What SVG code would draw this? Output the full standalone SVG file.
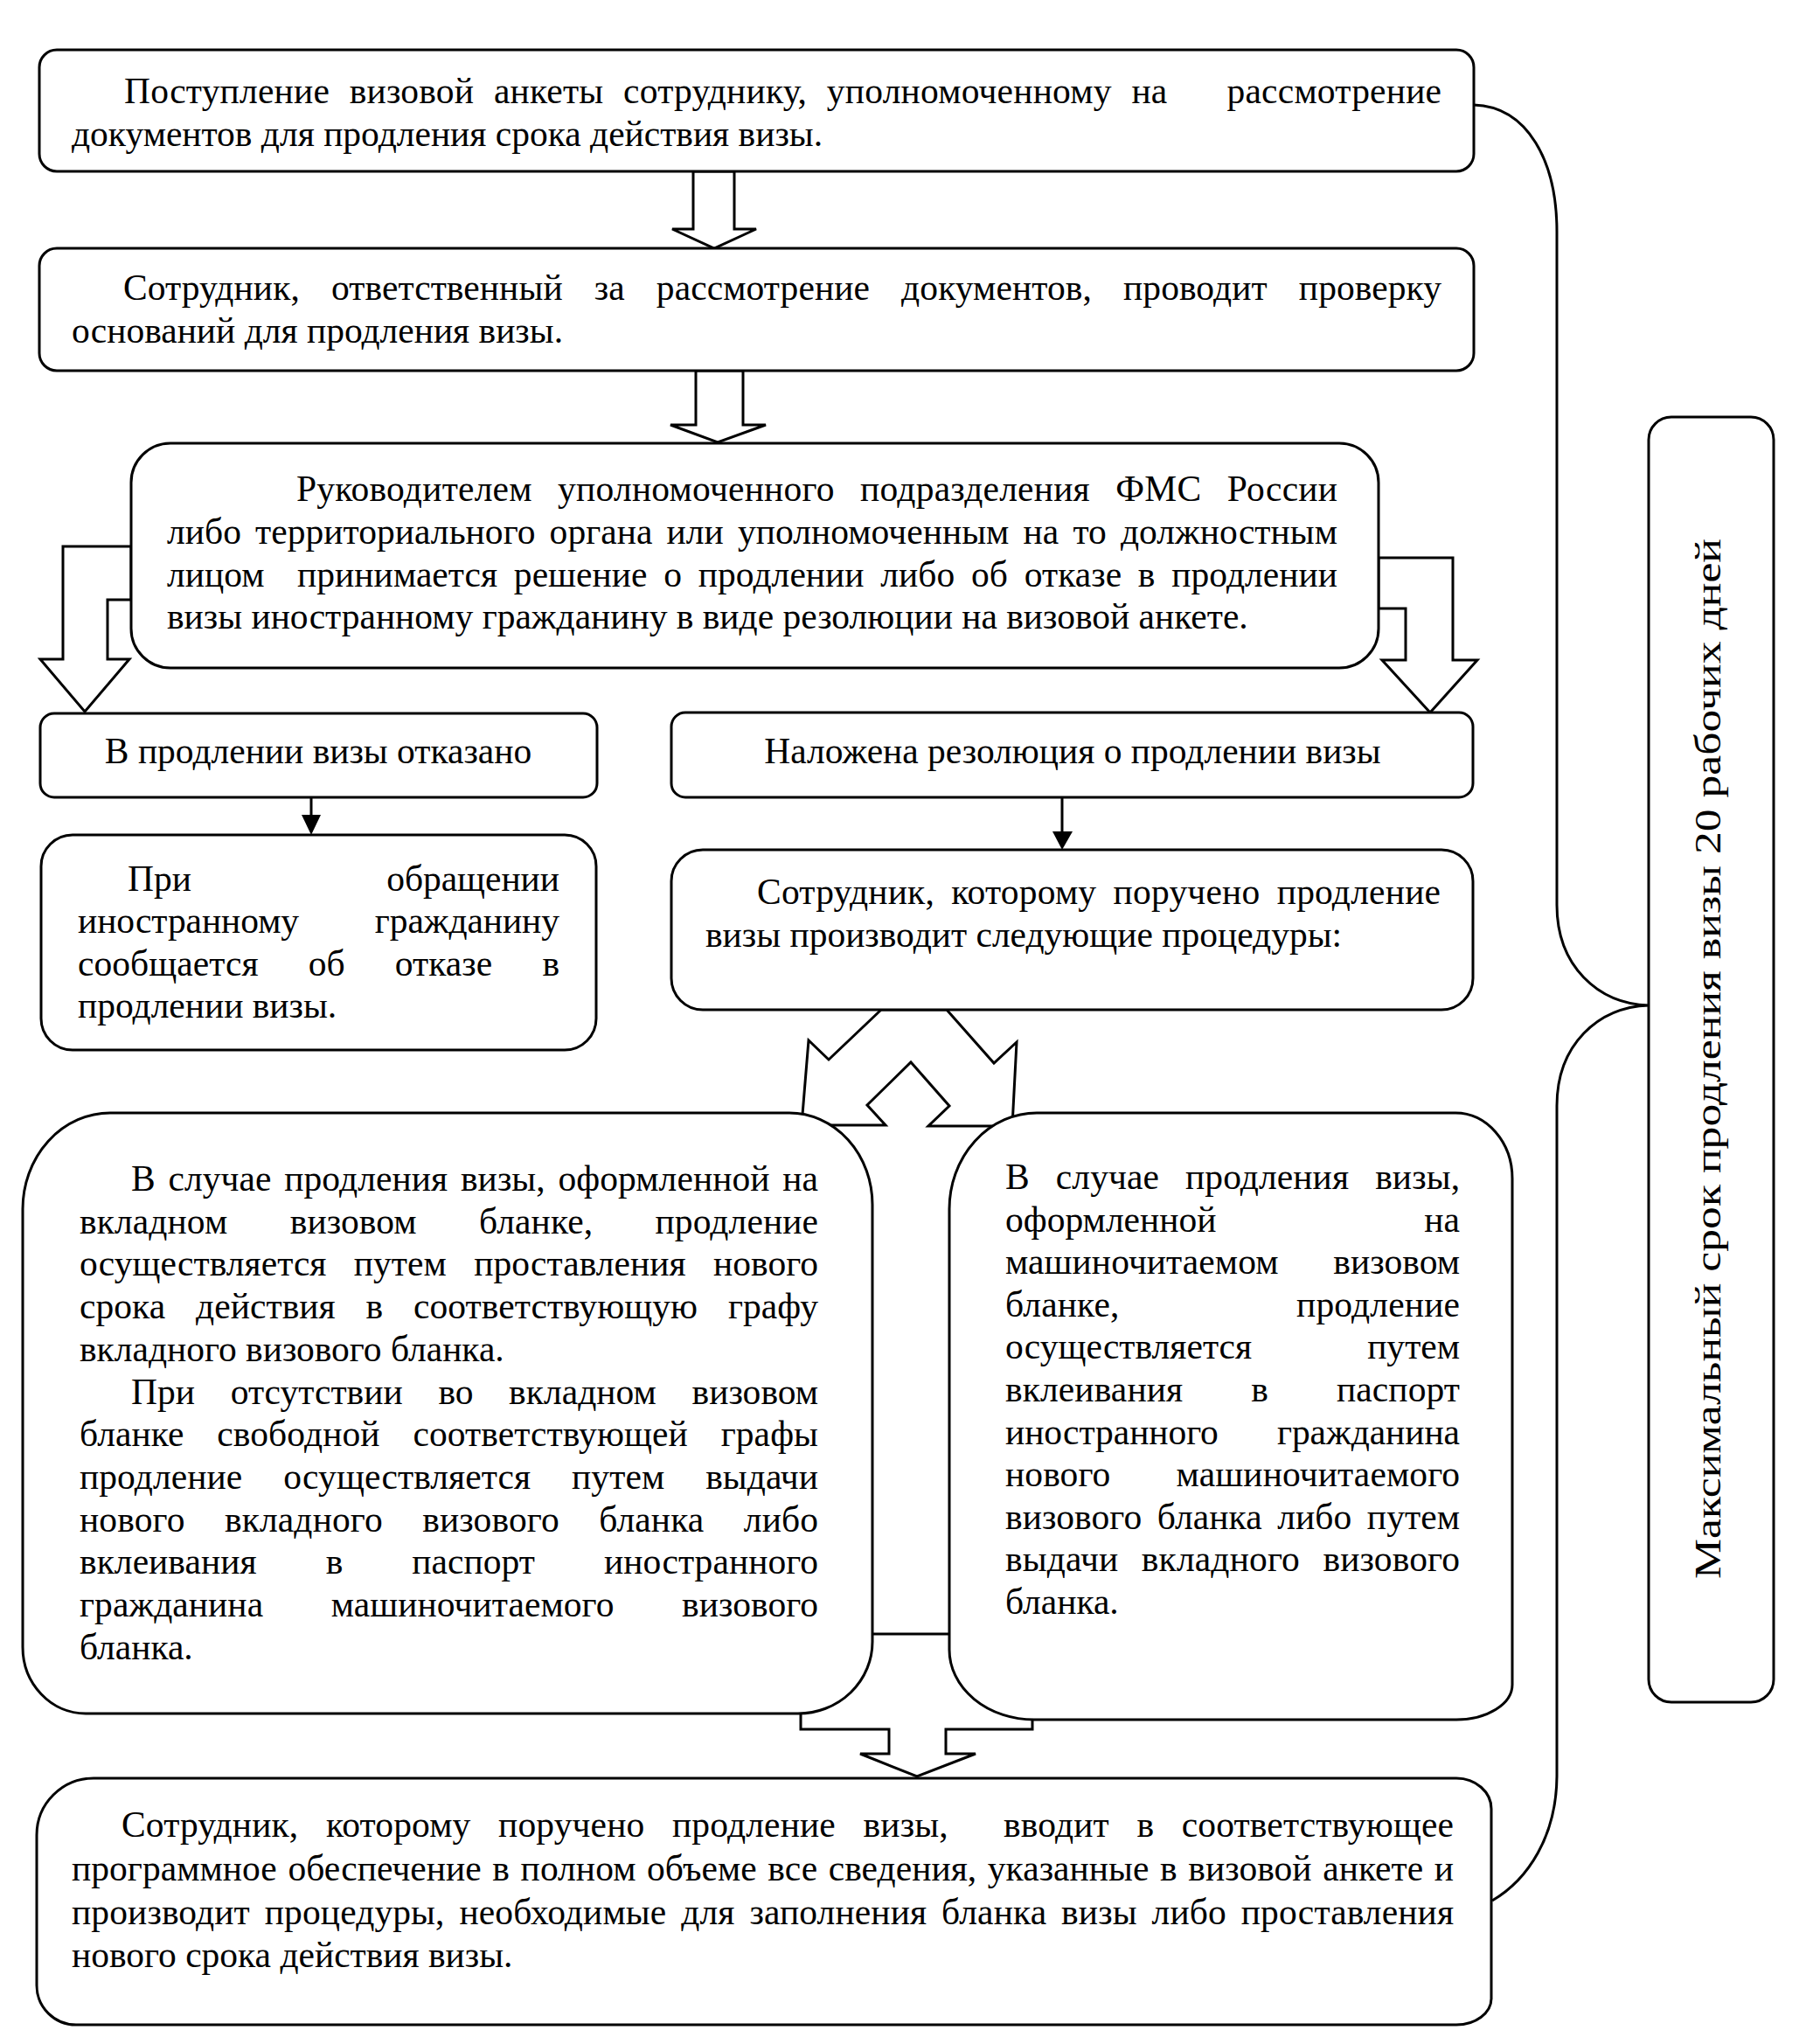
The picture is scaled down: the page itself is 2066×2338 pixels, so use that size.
<svg xmlns="http://www.w3.org/2000/svg" width="2066" height="2338" viewBox="0 0 2066 2338">
<style>
.b{fill:#fff;stroke:#000;stroke-width:3}
.a{fill:#fff;stroke:#000;stroke-width:3;stroke-linejoin:miter}
.l{fill:none;stroke:#000;stroke-width:3}
.h{fill:#000;stroke:none}
text{font-family:"Liberation Serif","Times New Roman",serif;font-size:41.5px;fill:#000}
</style>
<rect width="2066" height="2338" fill="#fff"/>
<g id="connectors">
<path class="l" d="M1686,120 C1748,122 1781,185 1781,265 V1035 C1781,1105 1828,1148 1886,1150 C1828,1152 1781,1195 1781,1265 V2030 C1781,2100 1748,2150 1707,2174"/>
<polygon class="a" points="793,196 840,196 840,262 865,262 817,284 769,262 793,262"/>
<polygon class="a" points="796,424 850,424 850,486 876,486 821,506 767,486 796,486"/>
<polygon class="a" points="150,625 72,625 72,754 46,754 97,814 148,754 123,754 123,686 150,686"/>
<polygon class="a" points="1577,638 1662,638 1662,755 1690,755 1636,815 1581,755 1608,755 1608,696 1577,696"/>
<line class="l" x1="356" y1="912" x2="356" y2="934"/>
<polygon class="h" points="345,932 367,932 356,955"/>
<line class="l" x1="1215" y1="912" x2="1215" y2="953"/>
<polygon class="h" points="1204,951 1227,951 1215,972"/>
<polygon class="a" points="1008,1155 948,1212 925,1190 917,1287 1013,1287 992,1264 1042,1215 1086,1265 1062,1288 1158,1288 1163,1192 1137,1216 1083,1155"/>
<polygon class="a" points="916,1869 1181,1869 1181,1978 1082,1978 1082,2006 1116,2006 1049,2032 984,2006 1017,2006 1017,1978 916,1978"/>
</g>
<g id="n1">
<rect class="b" x="45" y="57" width="1641" height="139" rx="20"/>
<text x="142" y="118" textLength="1507" word-spacing="12.1">Поступление визовой анкеты сотруднику, уполномоченному на&#160;&#160; рассмотрение</text>
<text x="82" y="167">документов для продления срока действия визы.</text>
</g>
<g id="n2">
<rect class="b" x="45" y="284" width="1641" height="140" rx="20"/>
<text x="141" y="343" textLength="1508" word-spacing="25.6">Сотрудник, ответственный за рассмотрение документов, проводит проверку</text>
<text x="82" y="392">оснований для продления визы.</text>
</g>
<g id="n3">
<rect class="b" x="150" y="507" width="1427" height="257" rx="45"/>
<text x="339" y="573" textLength="1191" word-spacing="18.8">Руководителем уполномоченного подразделения ФМС России</text>
<text x="191" y="622" textLength="1339" word-spacing="5.7">либо территориального органа или уполномоченным на то должностным</text>
<text x="191" y="671" textLength="1339" word-spacing="8.3">лицом&#160; принимается решение о продлении либо об отказе в продлении</text>
<text x="191" y="719">визы иностранному гражданину в виде резолюции на визовой анкете.</text>
</g>
<g id="n4">
<rect class="b" x="46" y="816" width="637" height="96" rx="16"/>
<text x="364" y="873" text-anchor="middle">В продлении визы отказано</text>
</g>
<g id="n5">
<rect class="b" x="768" y="815" width="917" height="97" rx="16"/>
<text x="1227" y="873" text-anchor="middle">Наложена резолюция о продлении визы</text>
</g>
<g id="n6">
<rect class="b" x="47" y="955" width="635" height="246" rx="36"/>
<text x="146" y="1019" textLength="494" word-spacing="213">При обращении</text>
<text x="89" y="1067" textLength="551" word-spacing="76.5">иностранному гражданину</text>
<text x="89" y="1116" textLength="551" word-spacing="46.7">сообщается об отказе в</text>
<text x="89" y="1164">продлении визы.</text>
</g>
<g id="n7">
<rect class="b" x="768" y="972" width="917" height="183" rx="36"/>
<text x="866" y="1034" textLength="782" word-spacing="8.7">Сотрудник, которому поручено продление</text>
<text x="807" y="1083">визы производит следующие процедуры:</text>
</g>
<g id="n8">
<path class="b" d="M126,1273 H903 A95,105 0 0 1 998,1378 V1878 A85,82 0 0 1 913,1960 H98 A72,76 0 0 1 26,1884 V1383 A100,110 0 0 1 126,1273 Z"/>
<text x="150" y="1362" textLength="786" word-spacing="4.3">В случае продления визы, оформленной на</text>
<text x="91" y="1410.7" textLength="845" word-spacing="60.9">вкладном визовом бланке, продление</text>
<text x="91" y="1459.4" textLength="845" word-spacing="20.9">осуществляется путем проставления нового</text>
<text x="91" y="1508.1" textLength="845" word-spacing="24.4">срока действия в соответствующую графу</text>
<text x="91" y="1556.8">вкладного визового бланка.</text>
<text x="150" y="1605.5" textLength="786" word-spacing="30.2">При отсутствии во вкладном визовом</text>
<text x="91" y="1654.2" textLength="845" word-spacing="27.3">бланке свободной соответствующей графы</text>
<text x="91" y="1702.9" textLength="845" word-spacing="36.5">продление осуществляется путем выдачи</text>
<text x="91" y="1751.6" textLength="845" word-spacing="34.9">нового вкладного визового бланка либо</text>
<text x="91" y="1800.3" textLength="845" word-spacing="68.6">вклеивания в паспорт иностранного</text>
<text x="91" y="1849" textLength="845" word-spacing="67.1">гражданина машиночитаемого визового</text>
<text x="91" y="1897.7">бланка.</text>
</g>
<g id="n9">
<path class="b" d="M1186,1273 H1665 A65,75 0 0 1 1730,1348 V1927 A64,40 0 0 1 1666,1967 H1183 A97,80 0 0 1 1086,1887 V1383 A100,110 0 0 1 1186,1273 Z"/>
<text x="1150" y="1360" textLength="520" word-spacing="19.6">В случае продления визы,</text>
<text x="1150" y="1408.6" textLength="520" word-spacing="227.4">оформленной на</text>
<text x="1150" y="1457.2" textLength="520" word-spacing="52.4">машиночитаемом визовом</text>
<text x="1150" y="1505.8" textLength="520" word-spacing="192">бланке, продление</text>
<text x="1150" y="1554.4" textLength="520" word-spacing="121.6">осуществляется путем</text>
<text x="1150" y="1603" textLength="520" word-spacing="67.5">вклеивания в паспорт</text>
<text x="1150" y="1651.6" textLength="520" word-spacing="56.8">иностранного гражданина</text>
<text x="1150" y="1700.2" textLength="520" word-spacing="64.7">нового машиночитаемого</text>
<text x="1150" y="1748.8" textLength="520" word-spacing="7">визового бланка либо путем</text>
<text x="1150" y="1797.4" textLength="520" word-spacing="15.9">выдачи вкладного визового</text>
<text x="1150" y="1846">бланка.</text>
</g>
<g id="n10">
<path class="b" d="M107,2034 H1666 A40,35 0 0 1 1706,2069 V2286 A40,30 0 0 1 1666,2316 H87 A45,45 0 0 1 42,2271 V2099 A65,65 0 0 1 107,2034 Z"/>
<text x="139" y="2101" textLength="1524" word-spacing="21.1">Сотрудник, которому поручено продление визы,&#160; вводит в соответствующее</text>
<text x="82" y="2151" textLength="1581" word-spacing="2.2">программное обеспечение в полном объеме все сведения, указанные в визовой анкете и</text>
<text x="82" y="2201" textLength="1581" word-spacing="6.4">производит процедуры, необходимые для заполнения бланка визы либо проставления</text>
<text x="82" y="2250">нового срока действия визы.</text>
</g>
<g id="n11">
<rect class="b" x="1886" y="477" width="143" height="1470" rx="26"/>
<text transform="translate(1968,1211) rotate(-90)" x="0" y="0" text-anchor="middle" font-size="51.5" textLength="1190" lengthAdjust="spacingAndGlyphs">Максимальный срок продления визы 20 рабочих дней</text>
</g>
</svg>
